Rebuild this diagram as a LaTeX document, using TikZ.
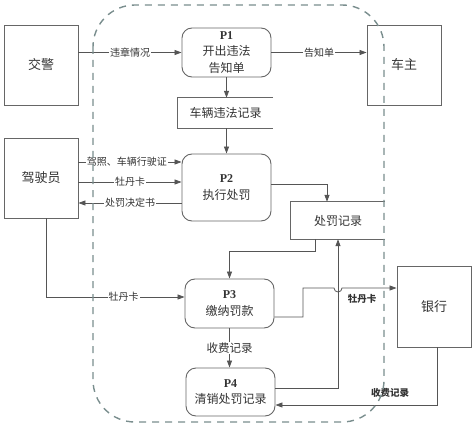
\documentclass[tikz,border=0pt]{standalone}
\usepackage{fontspec}
\setmainfont{Noto Sans CJK SC}
\newfontfamily\pfont{Liberation Serif}
\usetikzlibrary{arrows.meta}
\definecolor{linec}{HTML}{555555}
\definecolor{boxc}{HTML}{666666}
\definecolor{txtc}{HTML}{333333}
\definecolor{dashc}{HTML}{7A8E8E}
\begin{document}
\begin{tikzpicture}[x=1pt,y=-1pt,
  line/.style={draw=linec, line width=0.8pt},
  arr/.style={line, -{Triangle[length=7pt,width=5pt]}},
  ext/.style={draw=boxc, line width=0.9pt, minimum width=74pt, minimum height=80pt, inner sep=0pt, font=\fontsize{13}{15}\selectfont, text=txtc},
  proc/.style={draw=boxc, line width=0.9pt, rounded corners=10pt, minimum width=89pt, inner sep=0pt, align=center, font=\fontsize{12}{16.5}\selectfont, text=txtc},
  dsnode/.style={inner sep=0pt, font=\fontsize{12}{14}\selectfont, text=txtc},
  dsline/.style={draw=boxc, line width=0.9pt},
  lbl/.style={fill=white, inner sep=1pt, font=\fontsize{10}{11}\selectfont, text=txtc},
  blbl/.style={inner sep=1pt, font=\fontsize{9.5}{11}\selectfont\bfseries, text=txtc}]
\useasboundingbox (0,0) rectangle (474,425);

% external entities
\node[ext] (jj)  at (41,65)    {交警};
\node[ext] (cz)  at (404,65)   {车主};
\node[ext] (jsy) at (41,178)   {驾驶员};
\node[ext, minimum height=81pt] (yh) at (434,306.5) {银行};

% processes
\node[proc, minimum height=49pt] (p1) at (226.5,52.5) {{\pfont\bfseries P1}\\开出违法\\告知单};
\node[proc, minimum height=67pt] (p2) at (226.5,187.5) {{\pfont\bfseries P2}\\执行处罚};
\node[proc, minimum height=49pt] (p3) at (229.5,303.5) {{\pfont\bfseries P3}\\缴纳罚款};
\node[proc, minimum height=48pt] (p4) at (230.5,392) {{\pfont\bfseries P4}\\清销处罚记录};

% data stores
\node[dsnode, minimum width=95pt, minimum height=30pt] (ds1) at (225.5,113) {车辆违法记录};
\draw[dsline] (ds1.north east) -- (ds1.north west) -- (ds1.south west) -- (ds1.south east);
\node[dsnode, minimum width=94pt, minimum height=37pt] (ds2) at (338,220.5) {处罚记录};
\draw[dsline] (ds2.north east) -- (ds2.north west) -- (ds2.south west) -- (ds2.south east);

% flows
\draw[arr] (jj.east |- p1.west) -- node[lbl]{违章情况} (p1.west);
\draw[arr] (p1.east) -- node[lbl]{告知单} (cz.west |- p1.east);
\draw[arr] (p1.south) -- (p1.south |- ds1.north);
\draw[arr] (ds1.south -| p2.north) -- (p2.north);

\draw[arr] (jsy.east |- 0,162) -- node[lbl, pos=0.47]{驾照、车辆行驶证} (p2.west |- 0,162);
\draw[arr] (jsy.east |- 0,182) -- node[lbl]{牡丹卡} (p2.west |- 0,182);
\draw[arr] (p2.west |- 0,203) -- node[lbl]{处罚决定书} (jsy.east |- 0,203);

\draw[arr] (p2.east |- 0,184) -| ([xshift=-11pt]ds2.north);
\draw[arr] ([xshift=-23pt]ds2.south) -- ++(0,12) -| (p3.north);

\draw[arr] ([xshift=5pt]jsy.south) |- node[lbl, pos=0.78]{牡丹卡} (p3.west |- 0,297);

\coordinate (h1) at (303,317);
\coordinate (h2) at (303,288);
\draw[arr] (p3.east |- h1) -- (h1) -- (h2) -- (334,288) arc[start angle=180, end angle=360, radius=4pt] -- (yh.west |- h2);
\node[blbl] (lk) at (362,299) {牡丹卡};

\draw[arr] (p4.east |- 0,388) -| (ds2.south);
\draw[arr] ([xshift=3pt]yh.south) |- (p4.east |- 0,405);
\node[blbl] (lsf) at (390,393) {收费记录};

\draw[arr] (p3.south) -- node[lbl, font=\fontsize{11.5}{13}\selectfont]{收费记录} (p3.south |- p4.north);

% system boundary
\draw[dashc, line width=1.4pt, dash pattern=on 7pt off 6pt, rounded corners=42pt] (93,5) rectangle (384,422);
\end{tikzpicture}
\end{document}
